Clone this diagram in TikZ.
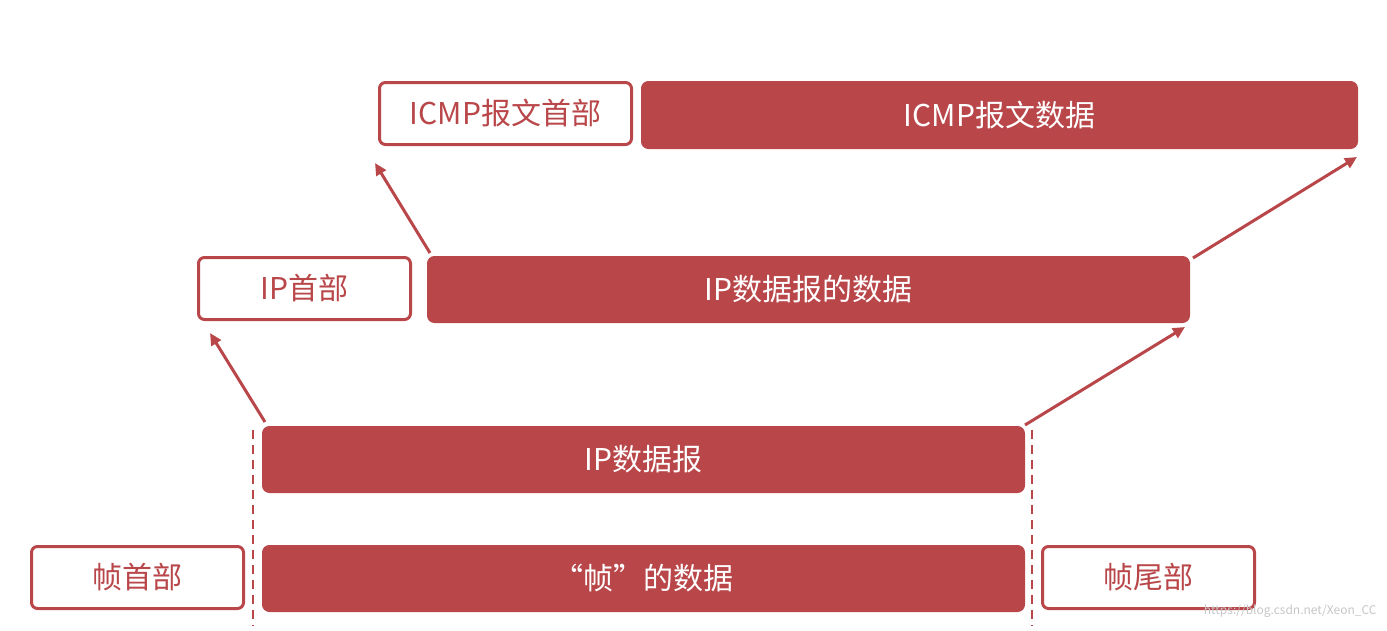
\documentclass[tikz,border=0pt]{standalone}
\usepackage{fontspec}
\setmainfont{Noto Sans CJK SC}
\usetikzlibrary{arrows.meta}
\definecolor{rd}{HTML}{B9474A}
\begin{document}
\begin{tikzpicture}[x=1pt,y=-1pt,
  box/.style={draw=rd,line width=3pt,rounded corners=6pt,inner sep=0pt,font=\fontsize{30}{33}\selectfont},
  outl/.style={box,fill=white,text=rd},
  fil/.style={box,fill=rd,text=white},
  arr/.style={draw=rd,line width=3pt,-{Triangle[length=12pt,width=11pt]}},
  dsh/.style={draw=rd,line width=1.5pt,dash pattern=on 9pt off 6pt}]
\useasboundingbox (0,0) rectangle (1387,630);
\newcommand\bx[6]{\node[#1,minimum width={#4-#2-3},minimum height={#5-#3-3}] (#6) at ({(#2+#4)/2},{(#3+#5)/2})}
\bx{outl}{378}{81}{633}{146}{icmph} {ICMP报文首部};
\bx{fil}{641}{81}{1358}{149}{icmpd} {ICMP报文数据};
\bx{outl}{197}{256}{412}{321}{iph} {IP首部};
\bx{fil}{427}{256}{1190}{323}{ipd} {IP数据报的数据};
\bx{fil}{262}{426}{1025}{493}{ip} {IP数据报};
\bx{outl}{30}{545}{245}{610}{fh} {帧首部};
\bx{fil}{262}{545}{1025}{612}{fd} {“帧”的数据};
\bx{outl}{1041}{545}{1256}{610}{ft} {帧尾部};
\coordinate (d1a) at (253,430); \coordinate (d1b) at (253,626);
\coordinate (d2a) at (1032,430); \coordinate (d2b) at (1032,626);
\draw[dsh] (d1a) -- (d1b);
\draw[dsh] (d2a) -- (d2b);
\coordinate (a1) at (265,422); \coordinate (a1e) at (210,333);
\coordinate (a2) at (1025,425); \coordinate (a2e) at (1185,327);
\coordinate (a3) at (430,253); \coordinate (a3e) at (375,163);
\coordinate (a4) at (1193,258); \coordinate (a4e) at (1357,157);
\draw[arr] (a1) -- (a1e);
\draw[arr] (a2) -- (a2e);
\draw[arr] (a3) -- (a3e);
\draw[arr] (a4) -- (a4e);
\node[text=gray!45,font=\fontsize{12}{14}\selectfont,anchor=east] (wm) at (1380,611) {https://blog.csdn.net/Xeon\_CC};
\end{tikzpicture}
\end{document}
